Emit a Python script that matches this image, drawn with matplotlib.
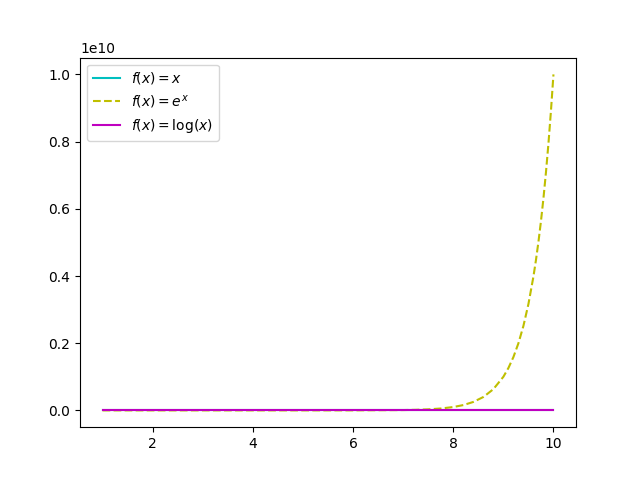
import matplotlib
matplotlib.use("Agg")
import matplotlib.pyplot as plt

# x positions for the exponential-looking curve
x_exp = [1, 2, 3, 4, 5, 6, 7, 7.25, 7.5, 7.75, 8, 8.2, 8.4, 8.6, 8.8, 9,
         9.1, 9.2, 9.3, 9.4, 9.5, 9.6, 9.65, 9.7, 9.75, 9.8, 9.85, 9.9, 9.95, 10]
y_exp = [1e1, 1e2, 1e3, 1e4, 1e5, 1e6, 1e7, 1.778e7, 3.162e7, 5.623e7, 1e8,
         1.585e8, 2.512e8, 3.981e8, 6.310e8, 1e9, 1.259e9, 1.585e9, 1.995e9,
         2.512e9, 3.162e9, 3.981e9, 4.467e9, 5.012e9, 5.623e9, 6.310e9,
         7.079e9, 7.943e9, 8.913e9, 1e10]

x_lin = [1, 2, 3, 4, 5, 6, 7, 8, 9, 10]
y_lin = [1, 2, 3, 4, 5, 6, 7, 8, 9, 10]
y_log = [0.0, 0.693, 1.099, 1.386, 1.609, 1.792, 1.946, 2.079, 2.197, 2.303]

fig, ax = plt.subplots(figsize=(6.4, 4.8), dpi=100)
ax.plot(x_lin, y_lin, color='c', linestyle='-', label=r'$f(x) = x$')
ax.plot(x_exp, y_exp, color='y', linestyle='--', label=r'$f(x) = e^x$')
ax.plot(x_lin, y_log, color='m', linestyle='-', label=r'$f(x) = \log(x)$')
ax.legend(loc='upper left')
fig.savefig('out.png')
